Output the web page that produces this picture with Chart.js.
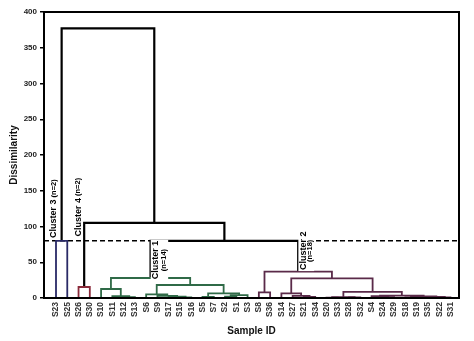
<!DOCTYPE html>
<html>
<head>
<meta charset="utf-8">
<script src="https://cdn.jsdelivr.net/npm/chart.js@4.4.1/dist/chart.umd.min.js"></script>
<style>
  body { margin: 0; background: #fff; }
</style>
</head>
<body>
<canvas id="dendro" width="474" height="341"></canvas>
<script>
// leaf order along the x axis
var sampleIds = ['S23','S25','S26','S30','S10','S11','S12','S13','S6','S9','S17','S15','S16','S5','S7',
  'S2','S1','S3','S8','S36','S14','S27','S21','S34','S20','S33','S28','S32','S4','S24','S29','S18',
  'S19','S35','S22','S31'];

// merges: [node name, left child, right child, dissimilarity]
var cluster1Links = [
  ['c1a', 'S12', 'S13', 1.2],
  ['c1b', 'S11', 'c1a', 2.6],
  ['c1c', 'S10', 'c1b', 12.6],
  ['c1d', 'S15', 'S16', 1.0],
  ['c1e', 'S17', 'c1d', 2.0],
  ['c1f', 'S9', 'c1e', 3.0],
  ['c1g', 'S6', 'c1f', 5.2],
  ['c1h', 'S5', 'S7', 1.5],
  ['c1i', 'S2', 'S1', 2.0],
  ['c1j', 'c1i', 'S3', 4.0],
  ['c1k', 'c1h', 'c1j', 6.6],
  ['c1l', 'c1g', 'c1k', 18.2],
  ['c1', 'c1c', 'c1l', 28.0]
];
var cluster2Links = [
  ['c2a', 'S8', 'S36', 8.0],
  ['c2b', 'S21', 'S34', 1.5],
  ['c2c', 'S27', 'c2b', 3.0],
  ['c2d', 'S14', 'c2c', 6.6],
  ['c2e', 'S20', 'S33', 0.6],
  ['c2f', 'S28', 'S32', 0.8],
  ['c2g', 'c2e', 'c2f', 1.2],
  ['c2h', 'S24', 'S29', 1.2],
  ['c2i', 'S4', 'c2h', 2.5],
  ['c2j', 'S18', 'S19', 1.0],
  ['c2k', 'S22', 'S31', 0.8],
  ['c2l', 'S35', 'c2k', 1.5],
  ['c2m', 'c2j', 'c2l', 2.2],
  ['c2n', 'c2i', 'c2m', 3.2],
  ['c2o', 'c2g', 'c2n', 8.5],
  ['c2p', 'c2d', 'c2o', 27.5],
  ['c2', 'c2a', 'c2p', 37.0]
];
var cluster3Links = [['c3', 'S23', 'S25', 80]];
var cluster4Links = [['c4', 'S26', 'S30', 15.4]];
var upperLinks = [
  ['u1', 'c1', 'c2', 80],
  ['u2', 'c4', 'u1', 105],
  ['root', 'c3', 'u2', 377]
];

var cutHeight = 80;
var clusterNames = ['Cluster 1', 'Cluster 2', 'Cluster 3', 'Cluster 4'];
var clusterSizes = [14, 18, 2, 2];
var yTicks = [0, 50, 100, 150, 200, 250, 300, 350, 400];

var xMin = -1.065, xMax = 35.76;

// node positions: leaves at their index, merges at the mean of their children
var nodes = {};
sampleIds.forEach(function (s, i) { nodes[s] = { x: i, y: 0 }; });

function linkPoints(l) {
  var a = nodes[l[1]], b = nodes[l[2]];
  nodes[l[0]] = { x: (a.x + b.x) / 2, y: l[3] };
  return [{ x: a.x, y: a.y }, { x: a.x, y: l[3] }, { x: b.x, y: l[3] }, { x: b.x, y: b.y }];
}

var datasets = [];
function addLinks(links, color, width) {
  links.forEach(function (l) {
    datasets.push({
      data: linkPoints(l),
      showLine: true,
      borderColor: color,
      borderWidth: width,
      pointRadius: 0,
      fill: false,
      tension: 0
    });
  });
}
addLinks(cluster1Links, '#2f6a47', 1.8);
addLinks(cluster2Links, '#5a2a49', 1.8);
addLinks(cluster3Links, '#2a2a66', 1.8);
addLinks(cluster4Links, '#8a2a3a', 1.8);
addLinks(upperLinks, '#000', 2.2);

// cut line
datasets.push({
  data: [{ x: xMin, y: cutHeight }, { x: xMax, y: cutHeight }],
  showLine: true,
  borderColor: '#000',
  borderWidth: 1.4,
  borderDash: [5, 3],
  pointRadius: 0,
  fill: false
});

var framePlugin = {
  id: 'frame',
  afterDraw: function (chart) {
    var a = chart.chartArea, ctx = chart.ctx;
    ctx.save();
    ctx.strokeStyle = '#000';
    ctx.lineWidth = 2;
    ctx.strokeRect(a.left, a.top, a.right - a.left, a.bottom - a.top);
    ctx.restore();
  }
};

// cluster captions, rotated
var labelPlugin = {
  id: 'clusterLabels',
  afterDatasetsDraw: function (chart) {
    var ctx = chart.ctx, xs = chart.scales.x, ys = chart.scales.y;
    var spots = [
      { i: 0, x: 8.85, y: 53, x2: 9.6, inline: false },
      { i: 1, x: 21.95, y: 66, x2: 22.55, inline: false },
      { i: 2, x: -0.18, y: 84, inline: true },
      { i: 3, x: 1.98, y: 86, inline: true }
    ];
    ctx.save();
    ctx.fillStyle = '#000';
    spots.forEach(function (s) {
      var name = clusterNames[s.i], size = '(n=' + clusterSizes[s.i] + ')';
      var px = xs.getPixelForValue(s.x), py = ys.getPixelForValue(s.y);
      ctx.save();
      ctx.translate(px, py);
      ctx.rotate(-Math.PI / 2);
      ctx.textBaseline = 'middle';
      if (s.inline) {
        ctx.font = 'bold 9px "Liberation Sans", Arial, sans-serif';
        var w = ctx.measureText(name).width;
        ctx.textAlign = 'left';
        ctx.fillText(name, 0, 0);
        ctx.font = 'bold 7.5px "Liberation Sans", Arial, sans-serif';
        ctx.fillText(size, w + 2, 0);
      } else {
        ctx.font = 'bold 9px "Liberation Sans", Arial, sans-serif';
        var w1 = ctx.measureText(name).width;
        var dx = xs.getPixelForValue(s.x2) - px;
        ctx.fillStyle = '#fff';
        ctx.fillRect(-w1 / 2 - 1, -5, w1 + 2, dx + 9);
        ctx.fillStyle = '#000';
        ctx.textAlign = 'center';
        ctx.fillText(name, 0, 0);
        ctx.font = 'bold 7.5px "Liberation Sans", Arial, sans-serif';
        ctx.fillText(size, 0, dx);
      }
      ctx.restore();
    });
    ctx.restore();
  }
};

var chart = new Chart(document.getElementById('dendro'), {
  type: 'scatter',
  data: { datasets: datasets },
  options: {
    responsive: false,
    animation: false,
    devicePixelRatio: 1,
    layout: { padding: { left: 0, right: 15, top: 12, bottom: 0 } },
    plugins: { legend: { display: false }, tooltip: { enabled: false } },
    scales: {
      x: {
        type: 'linear',
        min: xMin,
        max: xMax,
        afterBuildTicks: function (scale) {
          scale.ticks = sampleIds.map(function (s, i) { return { value: i }; });
        },
        afterFit: function (scale) { scale.height = 43; },
        ticks: {
          autoSkip: false,
          minRotation: 90,
          maxRotation: 90,
          padding: 4,
          color: '#333',
          font: { family: '"Liberation Sans", Arial, sans-serif', size: 8.5, weight: 'bold' },
          callback: function (v) { return sampleIds[v]; }
        },
        grid: { display: false, drawTicks: false },
        border: { display: false },
        title: {
          display: true,
          text: 'Sample ID',
          color: '#111',
          padding: { top: 0, bottom: 4 },
          font: { family: '"Liberation Sans", Arial, sans-serif', size: 10, weight: 'bold' }
        }
      },
      y: {
        min: 0,
        max: 400,
        afterBuildTicks: function (scale) {
          scale.ticks = yTicks.map(function (v) { return { value: v }; });
        },
        afterFit: function (scale) { scale.width = 44; },
        ticks: {
          padding: 3,
          color: '#222',
          font: { family: '"Liberation Sans", Arial, sans-serif', size: 8, weight: 'bold' }
        },
        grid: { drawOnChartArea: false, drawTicks: true, tickLength: 4, color: '#000', lineWidth: 1.5 },
        border: { display: false },
        title: {
          display: true,
          text: 'Dissimilarity',
          color: '#111',
          padding: { top: 8, bottom: 0 },
          font: { family: '"Liberation Sans", Arial, sans-serif', size: 10, weight: 'bold' }
        }
      }
    }
  },
  plugins: [framePlugin, labelPlugin]
});
</script>
</body>
</html>
